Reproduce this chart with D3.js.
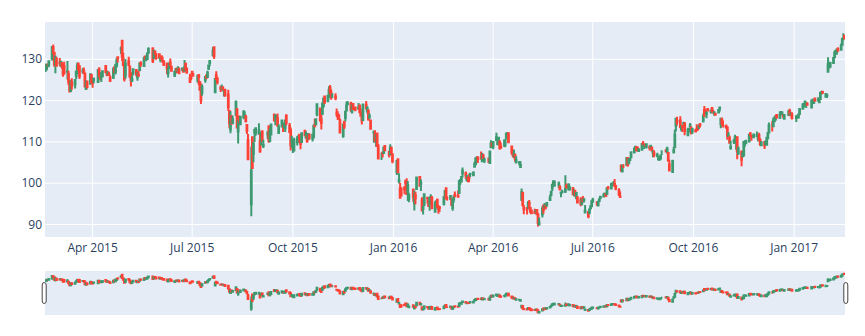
<!DOCTYPE html>
<html>
<head>
<meta charset="utf-8">
<script src="https://cdn.jsdelivr.net/npm/d3@7"></script>
<style>
  body { margin: 0; background: #fff; }
  svg { display: block; }
  text { font-family: "Open Sans", verdana, arial, sans-serif; font-size: 12px; fill: #2a3f5f; }
</style>
</head>
<body>
<svg id="chart" width="865" height="336"></svg>
<script>
// market holidays, the trading days are every weekday between first and last date minus these
var firstDay = "2015-02-17";
var lastDay = "2017-02-16";
var holidays = ["2015-04-03","2015-05-25","2015-07-03","2015-09-07","2015-11-26","2015-12-25",
  "2016-01-01","2016-01-18","2016-02-15","2016-03-25","2016-05-30","2016-07-04","2016-09-05",
  "2016-11-24","2016-12-26","2017-01-02","2017-01-16"];

// one line per month
var opens = [
  127.5,127.6,128.5,128.6,130.0,132.9,131.6,128.8,130.0,
  129.3,128.9,129.1,128.6,128.4,127.0,126.4,124.8,122.3,124.4,123.9,125.9,127.0,128.8,128.3,127.1,127.2,126.5,122.8,124.6,124.1,126.1,
  124.8,125.0,124.5,127.6,125.9,125.9,125.9,128.4,127.0,126.4,126.3,125.6,125.6,128.1,127.0,128.3,130.5,132.3,134.5,130.2,128.6,
  126.1,129.5,128.2,126.6,124.8,126.7,127.4,125.6,126.2,127.4,129.1,128.4,130.7,130.0,130.1,131.6,132.6,130.3,131.9,131.2,
  131.2,129.9,130.7,129.6,129.5,128.9,126.7,127.9,129.2,128.2,126.1,127.0,127.7,127.2,127.7,127.5,127.5,127.2,128.9,127.7,125.5,125.6,
  127.0,126.4,124.9,126.2,124.5,123.9,121.9,125.0,126.0,125.7,127.7,129.1,131.0,132.9,122.0,126.2,125.3,123.1,123.4,123.2,122.3,122.6,
  121.5,117.4,113.0,116.0,114.6,116.5,117.8,112.5,116.0,114.3,116.0,116.4,116.1,114.1,110.4,94.9,111.1,107.1,112.2,112.2,112.0,
  110.2,110.2,112.5,109.0,111.8,113.8,110.3,111.8,116.6,115.9,116.3,115.7,112.2,113.7,113.4,113.6,113.3,116.4,113.9,112.8,110.2,
  109.1,108.0,109.9,110.6,111.7,110.2,110.0,112.7,111.0,111.3,110.9,111.8,110.8,111.3,114.0,114.3,116.7,118.1,115.4,116.9,118.7,121.0,
  119.9,120.8,123.1,121.9,121.1,121.0,116.9,116.4,116.3,115.2,111.4,114.9,115.8,117.6,119.2,119.3,117.3,119.2,118.3,118.0,
  118.8,117.1,116.6,115.3,119.0,117.5,117.6,116.0,115.2,112.2,111.9,111.1,112.0,108.9,107.3,107.4,107.3,109.0,107.6,107.0,108.6,107.0,
  102.6,105.8,100.6,98.7,98.6,99.0,100.6,100.3,98.0,96.2,98.4,95.1,97.1,98.6,101.5,99.9,96.0,93.8,94.8,
  96.5,95.4,95.0,95.9,96.5,93.1,94.3,95.9,93.8,94.2,95.0,96.7,98.8,96.0,96.3,96.1,94.0,96.1,97.2,96.9,
  97.7,100.5,100.4,102.4,102.4,100.8,101.3,101.4,102.2,101.9,104.0,104.6,105.5,106.3,106.0,105.3,106.5,105.5,106.0,104.9,108.7,109.7,
  108.8,110.4,109.5,110.2,110.0,108.9,109.0,109.3,110.8,111.6,112.1,108.9,107.9,106.6,106.9,105.0,105.0,103.9,96.0,97.6,94.0,
  94.0,94.2,95.2,94.0,93.4,93.0,93.3,93.5,92.4,90.0,92.4,94.6,94.2,94.6,94.6,95.9,97.2,98.7,99.7,99.4,99.6,
  99.0,97.6,97.8,98.0,99.3,99.0,98.5,98.5,98.7,97.3,97.8,96.5,96.6,96.0,94.9,96.3,95.9,92.9,93.0,92.9,94.0,94.4,
  95.5,95.4,94.6,95.7,96.5,96.8,97.2,97.4,97.4,98.9,98.7,99.6,100.0,99.8,99.3,98.3,96.8,104.3,102.8,104.2,
  104.4,106.1,104.8,105.6,106.3,107.5,108.2,108.7,108.5,107.8,108.1,109.6,109.1,109.2,108.8,108.9,108.6,108.6,107.4,107.4,106.6,105.8,105.7,
  106.1,107.7,107.9,107.8,107.3,104.6,102.7,107.5,108.7,113.9,115.1,115.2,113.1,113.9,114.4,114.4,111.6,113.0,113.7,113.2,112.5,
  112.7,113.1,113.4,113.7,114.3,115.0,117.7,117.4,116.8,117.9,117.3,118.2,117.3,116.9,116.8,117.1,118.0,114.3,115.4,113.9,113.7,
  113.5,111.4,111.0,108.5,110.1,110.3,109.9,111.1,107.1,107.7,106.6,106.7,109.8,109.7,110.1,112.0,111.4,111.1,111.4,110.8,111.6,
  110.4,109.2,110.0,109.5,109.3,110.9,112.3,113.3,113.8,115.0,115.4,116.5,115.8,116.7,116.8,116.4,115.6,116.5,117.5,116.5,116.7,
  115.8,115.9,115.9,116.8,118.0,118.8,118.9,119.1,119.1,118.3,120.0,119.4,120.5,120.0,119.6,120.4,121.7,122.1,120.9,121.2,
  127.0,128.0,128.3,129.1,130.5,131.4,131.7,132.5,132.3,133.5,135.5,135.7
];
var highs = [
  128.9,128.8,129.0,129.5,133.0,133.6,131.6,130.9,130.6,
  130.3,129.5,129.2,128.8,129.4,129.6,127.2,124.8,124.9,125.4,124.9,127.3,129.2,129.2,128.4,127.9,128.0,126.8,124.9,124.7,126.4,126.5,
  125.1,125.6,127.5,128.1,126.4,126.6,127.2,128.6,127.3,127.1,127.0,126.1,128.1,128.2,128.9,130.4,130.6,133.1,134.5,131.6,128.6,
  130.1,130.6,128.5,126.8,126.1,127.6,127.6,126.9,127.2,129.0,129.5,130.7,130.9,130.9,131.6,132.9,132.9,132.3,131.9,131.5,
  131.4,130.7,131.0,130.6,129.7,129.2,128.0,129.3,130.2,128.3,127.2,127.9,127.9,128.3,127.8,128.1,127.6,129.8,129.2,128.0,126.5,126.2,
  127.0,126.7,126.2,126.2,124.6,124.1,123.9,125.8,126.4,127.2,128.6,129.6,133.0,133.0,125.5,127.1,125.7,123.6,123.9,123.5,122.6,122.6,
  122.6,117.7,117.4,116.5,116.3,120.0,118.2,115.4,116.4,116.3,117.7,117.4,116.5,114.3,111.9,108.8,111.1,109.9,113.2,113.3,114.5,
  111.9,112.3,112.8,110.5,112.6,114.0,113.3,114.2,116.9,116.5,116.5,116.9,114.3,115.4,114.2,114.7,115.5,116.7,114.6,113.5,111.5,
  109.6,111.0,111.4,111.6,111.8,110.2,112.3,112.8,112.5,111.5,112.1,112.0,111.8,114.2,115.6,115.5,119.2,118.1,116.5,119.3,120.7,121.2,
  121.4,123.5,123.8,122.7,121.8,121.8,118.1,117.4,116.8,115.6,114.2,115.1,117.5,119.8,119.9,119.7,119.0,119.2,118.4,119.4,
  118.8,118.1,116.8,119.3,119.9,118.6,117.7,116.9,115.4,112.7,112.8,112.0,112.3,109.5,107.4,107.7,108.9,109.0,107.7,109.4,108.7,107.0,
  105.4,105.9,102.4,100.1,99.1,99.1,100.7,101.2,100.5,97.7,98.7,98.2,97.9,101.5,101.5,100.9,96.6,94.5,97.3,
  96.7,96.0,96.8,97.3,96.9,95.7,95.9,96.3,94.7,94.5,96.9,98.2,98.9,96.8,96.9,96.5,96.4,96.8,98.0,98.2,
  100.8,100.9,101.7,103.8,102.8,102.0,101.6,102.2,102.3,102.9,105.2,106.3,106.5,106.5,107.7,107.3,107.1,106.2,106.2,107.8,110.4,109.9,
  110.0,112.2,110.7,111.0,110.4,109.8,110.6,110.5,112.3,112.4,112.3,109.0,108.0,108.1,106.9,106.5,105.4,105.3,98.7,97.9,94.7,
  94.1,95.7,95.9,94.1,93.6,93.8,93.6,93.6,92.8,91.7,94.4,94.7,95.2,94.6,95.4,97.2,98.1,99.7,100.7,100.5,100.4,
  99.5,97.8,98.4,101.9,99.9,99.6,100.0,99.4,99.1,98.5,98.4,97.8,96.7,96.6,96.3,96.9,96.3,94.7,93.1,93.7,94.6,95.8,
  96.5,95.4,95.7,96.5,96.9,97.7,97.7,97.7,99.0,99.3,100.1,100.0,100.5,101.0,99.3,98.8,98.0,104.4,104.5,104.6,
  106.2,106.1,105.8,106.0,107.7,108.4,109.0,108.9,108.9,108.4,109.5,110.2,109.4,109.6,109.7,109.0,109.3,108.9,108.0,108.0,107.4,106.5,106.6,
  106.8,108.0,108.3,108.8,107.3,105.7,105.7,108.8,113.0,115.7,116.1,116.2,114.1,114.0,114.9,114.8,113.4,113.2,114.6,113.8,113.4,
  113.1,114.3,113.7,114.3,114.6,116.8,118.7,118.0,117.4,118.2,117.8,118.2,117.8,117.4,116.9,117.7,118.4,115.7,115.9,115.2,114.2,
  113.8,112.4,111.5,110.3,110.5,111.7,111.3,111.1,108.9,107.8,107.7,110.2,110.4,110.5,112.0,112.4,111.5,111.9,112.5,112.0,112.2,
  110.9,110.1,110.0,110.4,111.2,112.4,114.7,115.0,115.9,116.2,116.5,116.5,117.4,117.5,117.4,116.5,116.5,117.8,118.0,117.1,117.2,
  116.3,116.5,116.9,118.2,119.4,119.4,119.9,119.3,119.6,120.2,120.5,120.1,120.5,120.8,120.1,122.1,122.4,122.4,121.6,121.4,
  130.5,129.4,129.2,130.5,132.1,132.2,132.5,132.9,133.8,135.1,136.3,135.9
];
var lows = [
  126.9,127.5,128.3,128.1,129.7,131.2,128.2,126.6,128.2,
  128.3,128.1,127.7,125.8,126.3,125.1,123.8,122.1,122.1,122.6,122.9,125.2,126.4,127.4,125.2,126.5,126.5,123.4,122.6,122.9,124.0,124.4,
  123.1,124.2,124.3,125.9,124.9,124.5,125.6,126.6,125.9,126.1,126.1,124.5,125.2,126.7,126.3,128.1,129.2,131.3,129.6,128.3,124.6,
  125.3,128.3,125.8,123.4,124.5,126.1,125.9,124.8,125.9,127.1,128.2,128.4,129.9,129.5,129.8,131.4,129.1,130.0,131.1,129.9,
  130.1,129.3,130.1,129.2,128.4,126.4,125.6,127.9,128.5,127.1,125.7,126.5,126.7,127.1,126.5,127.1,126.9,127.1,127.5,126.5,124.5,124.9,
  125.9,125.8,124.3,123.8,122.5,119.2,121.2,124.3,125.2,125.7,127.4,128.3,130.7,130.1,122.0,125.1,123.9,122.1,122.5,122.3,121.0,120.9,
  117.5,113.3,112.1,114.1,114.5,116.5,113.3,109.6,114.5,114.0,115.5,116.0,114.7,111.9,105.6,92.0,103.5,105.1,110.0,111.5,112.0,
  107.4,109.1,110.0,108.5,110.7,109.8,109.9,111.6,114.9,114.0,115.4,113.9,111.9,113.7,112.4,113.3,112.4,114.0,112.4,107.9,108.6,
  107.3,107.6,109.1,109.8,109.8,108.2,109.8,111.4,111.0,109.8,110.5,110.5,110.1,110.8,113.8,114.1,116.2,114.9,113.0,116.5,118.3,119.5,
  119.6,120.7,121.6,120.2,120.6,120.1,116.1,115.3,115.5,112.3,111.0,113.1,115.0,117.5,118.8,117.3,116.9,117.7,117.4,117.8,
  116.9,116.1,114.2,115.1,117.8,116.9,115.1,115.5,113.2,109.8,110.0,108.8,109.0,105.8,105.6,106.2,107.2,108.0,106.2,106.9,107.2,104.8,
  102.0,102.4,99.9,96.4,96.8,97.3,98.8,97.3,95.7,95.4,95.5,93.4,94.9,98.4,99.4,98.1,93.3,92.4,94.4,
  95.0,94.3,93.3,95.2,93.7,93.0,93.9,94.1,92.6,93.0,94.6,96.3,96.1,95.8,95.9,94.6,93.3,95.3,96.6,96.6,
  97.4,99.6,100.2,101.4,101.0,100.4,100.2,100.2,101.5,101.8,103.9,104.6,105.2,104.9,105.7,105.2,105.9,104.9,104.9,104.8,108.6,108.9,
  108.2,110.3,109.2,109.2,108.1,108.3,108.8,108.7,110.7,111.4,109.7,106.9,106.2,106.1,105.2,104.9,104.3,103.9,95.7,94.3,92.5,
  92.4,93.8,93.8,92.7,92.5,92.6,92.5,92.5,89.5,90.0,91.7,92.6,93.9,93.6,94.5,95.9,96.8,98.1,99.6,99.2,98.8,
  98.5,96.6,97.6,97.6,98.9,98.7,98.5,98.5,97.1,96.8,97.0,96.1,95.3,94.4,94.7,95.4,95.3,92.7,91.5,92.5,93.6,94.3,
  95.3,94.5,94.4,95.6,96.1,96.7,97.1,96.8,97.3,98.5,98.6,99.3,99.7,99.1,98.3,96.9,96.4,102.8,102.8,103.7,
  104.4,104.0,104.6,105.3,106.2,107.2,107.9,107.8,107.9,107.8,108.1,109.2,108.3,109.0,108.4,107.9,108.5,107.7,106.3,106.3,106.3,105.5,105.6,
  105.6,106.8,107.5,107.1,105.2,103.1,102.5,107.2,108.6,112.5,114.0,113.3,112.5,112.4,114.0,111.6,111.6,112.3,113.4,111.8,111.9,
  112.3,112.6,112.7,113.1,113.5,114.7,116.2,116.8,115.7,117.5,116.9,117.5,116.9,116.3,116.3,117.0,117.3,113.3,114.1,113.5,113.2,
  110.5,111.2,109.6,108.1,109.5,109.7,108.1,105.8,107.1,104.1,106.2,106.6,108.8,109.7,110.0,111.4,110.3,111.1,111.4,110.1,110.3,
  109.0,109.0,108.3,109.2,109.2,110.8,112.3,112.5,113.8,115.0,115.1,115.6,115.8,116.7,116.8,115.7,115.6,116.5,116.2,116.4,115.4,
  114.8,115.8,115.8,116.5,117.9,118.3,118.6,118.2,118.8,118.2,119.7,119.4,119.7,119.8,119.5,120.3,121.6,121.6,120.7,120.6,
  127.0,127.8,127.9,128.9,130.5,131.2,131.1,131.8,132.2,133.3,134.6,134.8
];
var closes = [
  127.8,128.7,128.5,129.5,133.0,132.2,128.8,130.4,128.5,
  129.1,129.4,128.5,126.4,126.6,127.1,124.5,122.2,124.5,123.6,125.0,127.0,128.5,127.5,125.9,127.2,126.7,123.4,124.2,123.3,126.4,124.4,
  124.3,125.3,127.4,126.0,125.6,126.6,127.1,126.9,126.3,126.8,126.2,124.8,127.6,126.9,128.6,129.7,130.3,132.7,130.6,128.6,125.2,
  129.0,128.7,125.8,125.0,125.3,127.6,126.3,125.9,126.0,129.0,128.8,130.2,130.1,130.1,131.4,132.5,129.6,132.0,131.8,130.3,
  130.5,130.0,130.1,129.4,128.7,127.8,127.4,128.9,128.6,127.2,126.9,127.6,127.3,127.9,126.6,127.6,127.0,128.1,127.5,126.8,124.5,125.4,
  126.6,126.4,126.0,125.7,122.6,120.1,123.3,125.7,125.6,126.8,128.5,129.6,132.1,130.8,125.2,125.2,124.5,122.8,123.4,123.0,122.4,121.3,
  118.4,114.6,115.4,115.1,115.5,119.7,113.5,115.2,115.2,116.0,117.2,116.5,115.0,112.7,105.8,103.1,103.7,109.7,112.9,113.3,112.8,
  107.7,112.3,110.4,109.3,112.3,110.2,112.6,114.2,115.3,116.3,116.4,113.9,113.5,115.2,113.4,114.3,115.0,114.7,112.4,109.1,110.3,
  109.6,110.4,110.8,111.3,110.8,109.5,112.1,111.6,111.8,110.2,111.9,111.0,111.7,113.8,113.8,115.5,119.1,115.3,114.6,119.3,120.5,119.5,
  121.2,122.6,122.0,120.9,121.1,120.6,116.8,116.1,115.7,112.3,114.2,113.7,117.3,118.8,119.3,117.8,118.9,118.0,117.8,118.3,
  117.3,116.3,115.2,119.0,118.3,118.2,115.6,116.2,113.2,112.5,110.5,111.3,109.0,106.0,107.3,107.2,108.6,108.0,106.8,108.7,107.3,105.3,
  105.4,102.7,100.7,96.5,97.0,98.5,100.0,97.4,99.5,97.1,96.7,96.8,96.3,101.4,99.4,100.0,93.4,94.1,97.3,
  96.4,94.5,96.4,96.6,94.0,95.0,95.0,94.3,93.7,94.0,96.6,98.1,96.3,96.0,96.9,94.7,96.1,96.8,96.9,96.7,
  100.5,100.8,101.5,103.0,101.9,101.0,101.1,101.2,102.3,102.5,104.6,106.0,105.8,105.9,105.9,106.7,106.1,105.7,105.2,107.7,109.6,109.0,
  110.0,111.1,109.8,111.0,108.5,108.7,109.0,110.4,112.0,112.1,109.9,107.5,106.9,107.1,106.0,105.7,105.1,104.4,97.8,94.8,93.7,
  93.6,95.2,94.2,93.2,92.7,92.8,93.4,92.5,90.3,90.5,93.9,93.5,94.6,94.2,95.2,96.4,97.9,99.6,100.4,100.4,99.9,
  98.5,97.7,97.9,98.6,99.0,98.9,99.7,98.8,97.3,97.5,97.1,97.6,95.3,95.1,95.9,95.6,96.1,93.4,92.0,93.6,94.4,95.6,
  95.9,95.0,95.5,95.9,96.7,97.0,97.4,96.9,98.8,98.8,99.8,99.9,100.0,99.4,98.7,97.3,96.7,103.0,104.3,104.2,
  106.1,104.5,105.8,105.9,107.5,108.4,108.8,108.0,107.9,108.2,109.5,109.4,109.2,109.1,109.4,108.5,108.9,108.0,107.6,106.9,106.8,106.0,106.1,
  106.7,107.7,107.7,108.4,105.5,103.1,105.4,108.0,111.8,115.6,114.9,113.6,113.6,113.6,114.6,112.7,112.9,113.1,114.0,112.2,113.1,
  112.5,113.0,113.1,113.9,114.1,116.1,116.3,117.3,117.0,117.6,117.6,117.5,117.1,117.1,116.6,117.7,118.3,115.6,114.5,113.7,113.5,
  111.5,111.6,109.8,108.8,110.4,111.1,110.9,107.8,108.4,105.7,107.1,110.0,110.0,110.1,111.7,111.8,111.2,111.8,111.6,111.5,110.5,
  109.5,109.9,109.1,110.0,111.0,112.1,114.0,113.3,115.2,115.2,115.8,116.0,116.6,117.0,117.1,116.3,116.5,117.3,116.8,116.7,115.8,
  116.2,116.0,116.6,117.9,119.0,119.1,119.8,119.3,119.0,120.0,120.0,119.8,120.0,120.1,120.0,121.9,121.9,122.0,121.6,121.4,
  128.8,128.5,129.1,130.3,131.5,132.0,132.4,132.1,133.3,135.0,135.5,135.4
];
var yTicks = [90, 100, 110, 120, 130];

var incColor = "#3D9970";
var decColor = "#FF4136";

var parseDay = d3.utcParse("%Y-%m-%d");
var fmtDay = d3.utcFormat("%Y-%m-%d");

var days = d3.utcDay.range(parseDay(firstDay), d3.utcDay.offset(parseDay(lastDay), 1))
  .filter(function (d) { return d.getUTCDay() % 6 !== 0 && holidays.indexOf(fmtDay(d)) < 0; });

var rows = days.map(function (d, i) {
  var o = opens[i], c = closes[i];
  var up = c > o || (c === o && i > 0 && c >= closes[i - 1]);
  return { date: d, o: o, h: highs[i], l: lows[i], c: c, up: up };
});

var svg = d3.select("#chart");
var W = 865;
var main = { left: 45, right: 845, top: 22, bottom: 237 };
var slider = { top: 271, bottom: 315 };

var x = d3.scaleUtc()
  .domain([d3.utcHour.offset(days[0], -12), d3.utcHour.offset(days[days.length - 1], 12)])
  .range([main.left, main.right]);
var yDomain = [86.97, 139.03];
var y = d3.scaleLinear().domain(yDomain).range([main.bottom, main.top]);
var ySl = d3.scaleLinear().domain(yDomain).range([slider.bottom, slider.top]);

// half body width, 0.7 of one day
var half = (x(d3.utcDay.offset(days[0], 1)) - x(days[0])) * 0.35;

var defs = svg.append("defs");
defs.append("clipPath").attr("id", "clipMain").append("rect")
  .attr("x", main.left).attr("y", main.top)
  .attr("width", main.right - main.left).attr("height", main.bottom - main.top);
defs.append("clipPath").attr("id", "clipSl").append("rect")
  .attr("x", main.left).attr("y", slider.top)
  .attr("width", main.right - main.left).attr("height", slider.bottom - slider.top);

// backgrounds
svg.append("rect").attr("x", main.left).attr("y", main.top)
  .attr("width", main.right - main.left).attr("height", main.bottom - main.top)
  .attr("fill", "#E5ECF6");
svg.append("rect").attr("x", main.left).attr("y", slider.top)
  .attr("width", main.right - main.left).attr("height", slider.bottom - slider.top)
  .attr("fill", "#E5ECF6");

// grid
var xTicks = x.ticks(d3.utcMonth.every(3));
var grid = svg.append("g");
grid.selectAll(".gx").data(xTicks).enter().append("line")
  .attr("x1", function (d) { return x(d); }).attr("x2", function (d) { return x(d); })
  .attr("y1", main.top).attr("y2", main.bottom)
  .attr("stroke", "#fff").attr("stroke-width", 1);
grid.selectAll(".gy").data(yTicks).enter().append("line")
  .attr("x1", main.left).attr("x2", main.right)
  .attr("y1", function (d) { return y(d); }).attr("y2", function (d) { return y(d); })
  .attr("stroke", "#fff").attr("stroke-width", 1);

function drawCandles(g, ys) {
  g.selectAll("path").data(rows).enter().append("path")
    .attr("d", function (d) {
      var xc = x(d.date);
      var b = ys(Math.min(d.o, d.c)), t = ys(Math.max(d.o, d.c));
      return "M" + (xc - half) + "," + b + "H" + (xc + half) + "V" + t + "H" + (xc - half) + "Z" +
        "M" + xc + "," + b + "V" + ys(d.l) + "M" + xc + "," + t + "V" + ys(d.h);
    })
    .attr("stroke", function (d) { return d.up ? incColor : decColor; })
    .attr("fill", function (d) { return d.up ? incColor : decColor; })
    .attr("fill-opacity", 0.5)
    .attr("stroke-width", 2);
}

drawCandles(svg.append("g").attr("clip-path", "url(#clipMain)"), y);
drawCandles(svg.append("g").attr("clip-path", "url(#clipSl)"), ySl);

// tick labels
var fmtTick = d3.utcFormat("%b %Y");
svg.append("g").selectAll("text").data(xTicks).enter().append("text")
  .attr("x", function (d) { return x(d); })
  .attr("y", 252)
  .attr("text-anchor", "middle")
  .text(function (d) { return fmtTick(d); });
svg.append("g").selectAll("text").data(yTicks).enter().append("text")
  .attr("x", 42)
  .attr("y", function (d) { return y(d); })
  .attr("dy", "0.35em")
  .attr("text-anchor", "end")
  .text(function (d) { return d; });

// range slider grabbers
var hTop = 282.5, hH = 21;
[main.left - 2.8, main.right - 1.2].forEach(function (hx) {
  svg.append("rect")
    .attr("x", hx).attr("y", hTop)
    .attr("width", 4).attr("height", hH)
    .attr("rx", 2.5).attr("ry", 2.5)
    .attr("fill", "#fff").attr("stroke", "#444").attr("stroke-width", 1);
});
</script>
</body>
</html>
